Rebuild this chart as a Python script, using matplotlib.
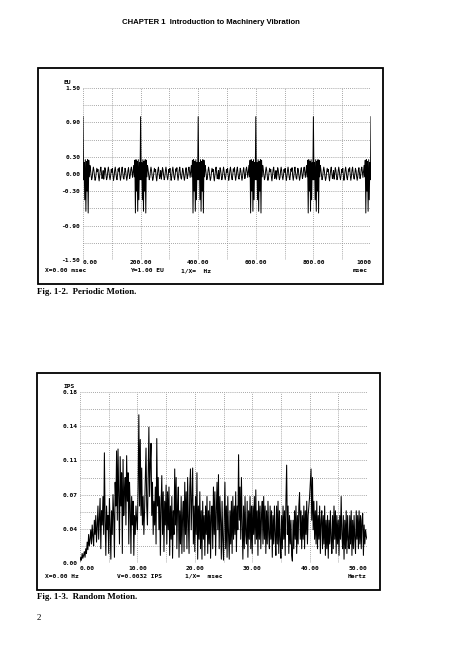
import numpy as np
import matplotlib
matplotlib.use('Agg')
import matplotlib.pyplot as plt
from matplotlib.patches import Rectangle

W, H = 474, 647

# Fig. 1-2: one 200 ms period of the signal, 2 ms steps (EU)
period_eu = [1.00, -0.10, 0.20, -0.45, 0.25, -0.65, 0.22, -0.30, 0.25, -0.68, 0.24, -0.05,
             0.15, 0.08, -0.02, -0.10, -0.06, 0.05, 0.12, 0.06, -0.04,
             -0.11, -0.07, 0.03, 0.10, 0.04, 0.08, -0.05, -0.12, -0.03,
             0.07, 0.12, 0.02, -0.08, -0.04, 0.06, -0.09, 0.00, 0.11,
             0.07, -0.03, -0.10, -0.06, 0.05, 0.12, 0.05, -0.05, -0.10,
             -0.03, 0.08, 0.03, 0.10, -0.02, -0.11, -0.05, 0.06, 0.12,
             0.04, -0.06, -0.10, -0.02, 0.09, 0.05, 0.11, -0.03, -0.11,
             -0.04, 0.07, 0.12, 0.03, -0.07, -0.09, 0.01, 0.10, 0.06,
             -0.04, -0.11, -0.05, 0.06, 0.11, 0.02, -0.08, -0.03, 0.08,
             0.12, 0.04, -0.06, 0.05, 0.15,
             -0.05, 0.24, -0.68, 0.25, -0.30, 0.22, -0.65, 0.25, -0.45, 0.20, -0.10]
n_periods = 5
step_ms = 2.0

# Fig. 1-3: spectrum in 0.125 Hz steps (IPS), one row per Hz
freq_step_hz = 0.125
spectrum_ips = [
    0.002, 0.006, 0.003, 0.010, 0.005, 0.008, 0.012, 0.006,
    0.015, 0.010, 0.022, 0.014, 0.030, 0.018, 0.025, 0.035,
    0.020, 0.040, 0.028, 0.018, 0.045, 0.030, 0.050, 0.022,
    0.038, 0.060, 0.025, 0.048, 0.068, 0.015, 0.055, 0.040,
    0.070, 0.030, 0.116, 0.045, 0.008, 0.060, 0.035, 0.050,
    0.010, 0.068, 0.040, 0.004, 0.055, 0.030, 0.072, 0.050,
    0.006, 0.085, 0.060, 0.118, 0.045, 0.120, 0.070, 0.020,
    0.112, 0.060, 0.095, 0.010, 0.109, 0.050, 0.075, 0.090,
    0.040, 0.113, 0.065, 0.095, 0.020, 0.085, 0.060, 0.010,
    0.070, 0.040, 0.065, 0.008, 0.050, 0.030, 0.060, 0.045,
    0.035, 0.080, 0.156, 0.060, 0.130, 0.050, 0.100, 0.040,
    0.070, 0.030, 0.055, 0.090, 0.121, 0.060, 0.040, 0.095,
    0.143, 0.070, 0.105, 0.126, 0.050, 0.085, 0.030, 0.065,
    0.040, 0.080, 0.020, 0.131, 0.060, 0.090, 0.035, 0.070,
    0.008, 0.060, 0.092, 0.030, 0.075, 0.012, 0.065, 0.040,
    0.082, 0.020, 0.075, 0.035, 0.080, 0.008, 0.060, 0.025,
    0.070, 0.005, 0.055, 0.030, 0.099, 0.040, 0.090, 0.015,
    0.060, 0.080, 0.006, 0.055, 0.020, 0.070, 0.010, 0.050,
    0.065, 0.012, 0.085, 0.030, 0.075, 0.015, 0.090, 0.045,
    0.010, 0.080, 0.099, 0.035, 0.070, 0.100, 0.020, 0.060,
    0.012, 0.070, 0.030, 0.095, 0.004, 0.060, 0.025, 0.075,
    0.015, 0.055, 0.004, 0.065, 0.025, 0.050, 0.008, 0.060,
    0.030, 0.070, 0.010, 0.055, 0.020, 0.065, 0.005, 0.050,
    0.060, 0.015, 0.080, 0.030, 0.075, 0.008, 0.055, 0.085,
    0.035, 0.093, 0.015, 0.070, 0.045, 0.004, 0.065, 0.025,
    0.003, 0.050, 0.085, 0.015, 0.060, 0.006, 0.070, 0.030,
    0.004, 0.055, 0.020, 0.065, 0.010, 0.070, 0.025, 0.060,
    0.030, 0.075, 0.012, 0.060, 0.035, 0.114, 0.045, 0.080,
    0.025, 0.090, 0.040, 0.004, 0.060, 0.015, 0.070, 0.030,
    0.020, 0.065, 0.006, 0.055, 0.025, 0.070, 0.015, 0.060,
    0.010, 0.060, 0.030, 0.070, 0.020, 0.077, 0.025, 0.055,
    0.008, 0.065, 0.025, 0.060, 0.015, 0.050, 0.065, 0.020,
    0.070, 0.025, 0.060, 0.010, 0.055, 0.020, 0.065, 0.030,
    0.015, 0.060, 0.025, 0.055, 0.006, 0.050, 0.020, 0.060,
    0.030, 0.008, 0.060, 0.020, 0.065, 0.010, 0.055, 0.025,
    0.005, 0.050, 0.015, 0.060, 0.025, 0.055, 0.008, 0.065,
    0.103, 0.030, 0.060, 0.010, 0.050, 0.020, 0.045, 0.008,
    0.002, 0.045, 0.015, 0.055, 0.025, 0.060, 0.010, 0.050,
    0.020, 0.060, 0.074, 0.025, 0.055, 0.015, 0.050, 0.025,
    0.060, 0.015, 0.055, 0.030, 0.065, 0.020, 0.050, 0.060,
    0.070, 0.085, 0.099, 0.045, 0.090, 0.035, 0.065, 0.025,
    0.055, 0.020, 0.065, 0.015, 0.050, 0.025, 0.060, 0.010,
    0.045, 0.055, 0.015, 0.050, 0.020, 0.060, 0.008, 0.045,
    0.015, 0.050, 0.005, 0.045, 0.020, 0.055, 0.025, 0.010,
    0.050, 0.015, 0.060, 0.025, 0.055, 0.010, 0.050, 0.020,
    0.045, 0.008, 0.050, 0.025, 0.070, 0.030, 0.015, 0.050,
    0.004, 0.045, 0.015, 0.055, 0.010, 0.050, 0.025, 0.015,
    0.050, 0.020, 0.055, 0.008, 0.045, 0.015, 0.050, 0.025,
    0.010, 0.055, 0.025, 0.050, 0.015, 0.055, 0.020, 0.050,
    0.015, 0.045, 0.052, 0.008, 0.040, 0.020, 0.035, 0.028,
    0.025]

top_ygrid = [-1.5, -1.2, -0.9, -0.6, -0.3, 0.0, 0.3, 0.6, 0.9, 1.2, 1.5]
top_ylabels = ['-1.50', '', '-0.90', '', '-0.30', '0.00', '0.30', '', '0.90', '', '1.50']
top_xgrid = [0, 100, 200, 300, 400, 500, 600, 700, 800, 900, 1000]
top_xlabels = ['0.00', '', '200.00', '', '400.00', '', '600.00', '', '800.00', '', '1000']

bot_ygrid = [0.0, 0.018, 0.036, 0.054, 0.072, 0.09, 0.108, 0.126, 0.144, 0.162, 0.18]
bot_ylabels = ['0.00', '', '0.04', '', '0.07', '', '0.11', '', '0.14', '', '0.18']
bot_xgrid = [0, 5, 10, 15, 20, 25, 30, 35, 40, 45, 50]
bot_xlabels = ['0.00', '', '10.00', '', '20.00', '', '30.00', '', '40.00', '', '50.00']

MONO = 'DejaVu Sans Mono'
SERIF = 'Liberation Serif'
FS = 4.5


def fx(x):
    return x / W


def fy(y):
    return 1 - y / H


def box(x0, y0, x1, y1):
    return [fx(x0), fy(y1), (x1 - x0) / W, (y1 - y0) / H]


def style_axes(ax, xgrid, xlabels, ygrid, ylabels, xpad):
    for s in ax.spines.values():
        s.set_visible(False)
    ax.set_xticks(xgrid, xlabels)
    ax.set_yticks(ygrid, ylabels)
    ax.set_xlim(xgrid[0], xgrid[-1])
    ax.set_ylim(ygrid[0], ygrid[-1])
    ax.tick_params(length=0, labelsize=FS)
    ax.tick_params(axis='x', pad=xpad)
    ax.tick_params(axis='y', pad=2)
    for lab in ax.get_xticklabels() + ax.get_yticklabels():
        lab.set_fontfamily(MONO)
        lab.set_fontweight('bold')
    xl = ax.get_xticklabels()
    xl[0].set_ha('left')
    xl[-1].set_ha('right')
    ax.grid(True, color='#8a8a8a', linestyle=(0, (1, 1.5)), linewidth=0.6)
    ax.set_axisbelow(True)


def small(x, y, s, ha='left'):
    fig.text(fx(x), fy(y), s, fontsize=FS, family=MONO, fontweight='bold',
             va='center', ha=ha)


fig = plt.figure(figsize=(W / 100, H / 100), dpi=100)

fig.text(fx(211), fy(23), 'CHAPTER 1  Introduction to Machinery Vibration',
         ha='center', va='center', fontsize=5.6, fontweight='bold',
         family='Liberation Sans')

# frames
for x0, y0, x1, y1 in [(38, 68, 383, 284), (37, 373, 380, 590)]:
    fig.patches.append(Rectangle((fx(x0), fy(y1)), (x1 - x0) / W, (y1 - y0) / H,
                                 transform=fig.transFigure, fill=False,
                                 edgecolor='black', linewidth=1.3))

# Fig. 1-2
ax1 = fig.add_axes(box(83, 88, 371, 260))
signal = np.append(np.tile(period_eu, n_periods), period_eu[0])
t = np.arange(len(signal)) * step_ms
ax1.plot(t, signal, color='black', linewidth=0.7)
style_axes(ax1, top_xgrid, top_xlabels, top_ygrid, top_ylabels, xpad=0.3)

small(64, 82, 'EU')
small(45, 270.5, 'X=0.00 msec')
small(130, 270.5, 'Y=1.00 EU')
small(181, 270.5, '1/X=  Hz')
small(368, 270.5, 'msec', ha='right')
fig.text(fx(37), fy(292), 'Fig. 1-2.  Periodic Motion.', fontsize=6.4, family=SERIF,
         fontweight='bold', va='center')

# Fig. 1-3
ax2 = fig.add_axes(box(80, 392, 367, 563))
f = np.arange(len(spectrum_ips)) * freq_step_hz
ax2.plot(f, spectrum_ips, color='black', linewidth=0.75)
style_axes(ax2, bot_xgrid, bot_xlabels, bot_ygrid, bot_ylabels, xpad=2.0)

small(64, 386, 'IPS')
small(45, 576, 'X=0.00 Hz')
small(117, 576, 'V=0.0032 IPS')
small(185, 576, '1/X=  msec')
small(366, 576, 'Hertz', ha='right')
fig.text(fx(37), fy(597), 'Fig. 1-3.  Random Motion.', fontsize=6.4, family=SERIF,
         fontweight='bold', va='center')

fig.text(fx(37), fy(618), '2', fontsize=6.4, family=SERIF, va='center')

fig.savefig('out.png', dpi=100)
